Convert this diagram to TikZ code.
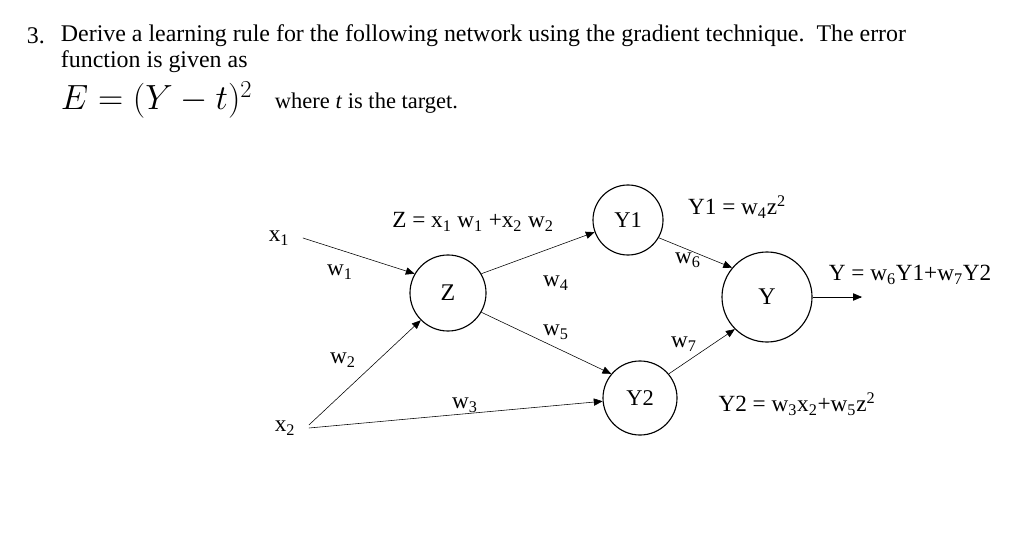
\documentclass[tikz,border=0pt]{standalone}
\usepackage{fontspec}
\setmainfont{Liberation Serif}
\usetikzlibrary{arrows,positioning}
\newcommand{\sbs}[1]{\textsubscript{#1}}
\begin{document}
\begin{tikzpicture}[x=0.025cm,y=-0.025cm,
		neuron/.style={circle, draw, thick, inner sep=0pt},
		lbl/.style={font=\fontsize{16.5}{19}\selectfont, inner sep=1pt},
		arrow/.style={-triangle 45, thin}
	]
	\useasboundingbox (0,0) rectangle (1036,544);
	% question text
	\node[anchor=west, font=\fontsize{17}{20}\selectfont] (num) at (22,36) {3.};
	\node[anchor=west, font=\fontsize{17}{20}\selectfont] (q1) at (56,36) {Derive a learning rule for the following network using the gradient technique.\ \ The error};
	\node[anchor=west, font=\fontsize{17}{20}\selectfont] (q2) at (56,62) {function is given as};
	\node[anchor=west, font=\fontsize{23}{26}\selectfont] (eq) at (56,100) {$E=(Y-t)^2$};
	\node[anchor=west, font=\fontsize{16}{19}\selectfont] (eq2) at (270,103) {where \textit{t} is the target.};

	% inputs
	\node[lbl] (x1) at (279,238) {x\sbs{1}};
	\node[lbl] (x2) at (285,428) {x\sbs{2}};

	% neurons
	\node[neuron, minimum size=1.9cm] (z) at (448,293) {\fontsize{17}{19}\selectfont Z};
	\node[neuron, minimum size=1.75cm] (y1) at (628,220) {\fontsize{16}{18}\selectfont Y1};
	\node[neuron, minimum size=1.85cm] (y2) at (640,398) {\fontsize{16}{18}\selectfont Y2};
	\node[neuron, minimum size=2.25cm] (y) at (767,297) {\fontsize{17}{19}\selectfont Y};
	\coordinate (out) at (862,297);

	% connections
	\draw[arrow] (x1.east) ++(12,0) -- (z.150);
	\draw[arrow] (x2.east) ++(12,-3) -- (z.225);
	\draw[arrow] (x2.east) ++(12,0) -- (y2.185);
	\draw[arrow] (z.30) -- (y1.200);
	\draw[arrow] (z.330) -- (y2.140);
	\draw[arrow] (y1.330) -- (y.140);
	\draw[arrow] (y2.40) -- (y.225);
	\draw[arrow] (y.east) -- (out);

	% labels
	\node[lbl] (zeq) at (473,222) {Z = x\sbs{1} w\sbs{1} +x\sbs{2} w\sbs{2}};
	\node[lbl] (w1) at (340,272) {w\sbs{1}};
	\node[lbl] (w2) at (343,360) {w\sbs{2}};
	\node[lbl] (w3) at (465,405) {w\sbs{3}};
	\node[lbl] (w4) at (556,283) {w\sbs{4}};
	\node[lbl] (w5) at (556,332) {w\sbs{5}};
	\node[lbl] (w6) at (688,260) {w\sbs{6}};
	\node[lbl] (w7) at (684,344) {w\sbs{7}};
	\node[lbl] (y1eq) at (737,207) {Y1 = w\sbs{4}z\textsuperscript{2}};
	\node[lbl] (y2eq) at (797,404) {Y2 = w\sbs{3}x\sbs{2}+w\sbs{5}z\textsuperscript{2}};
	\node[lbl] (yeq) at (910,275) {Y = w\sbs{6}Y1+w\sbs{7}Y2};
\end{tikzpicture}
\end{document}
